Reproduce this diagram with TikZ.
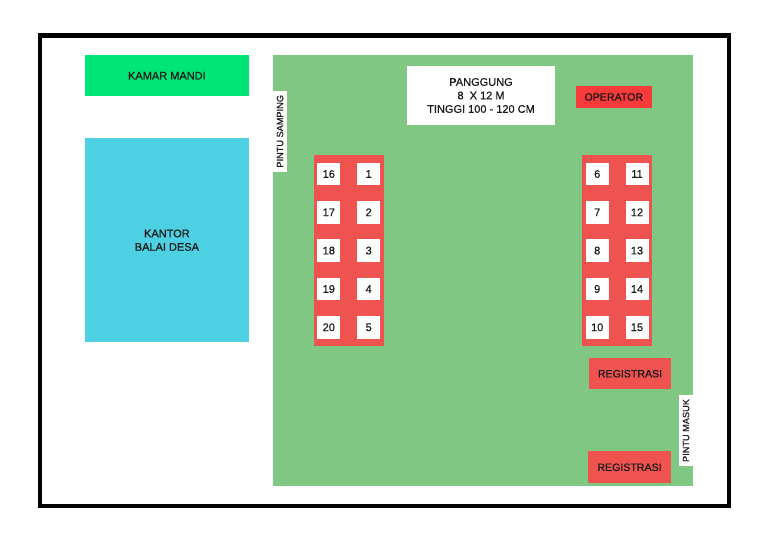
\documentclass[tikz,border=0pt]{standalone}
\usepackage{fontspec}
\setmainfont{Liberation Sans}[FakeBold=0.5]
\usetikzlibrary{positioning, calc}
\definecolor{lapangan}{HTML}{81C784}
\definecolor{kamar}{HTML}{00E676}
\definecolor{kantor}{HTML}{4DD0E1}
\definecolor{merah}{HTML}{EF5350}
\definecolor{operator}{HTML}{F83A3A}
\definecolor{tulisan}{HTML}{1A1A1A}
\tikzset{
    room/.style={inner sep=0pt, text=tulisan, align=center, font=\fontsize{11}{13.5}\selectfont},
    desk/.style={room, fill=merah, font=\fontsize{10.6}{13.5}\selectfont},
    seat/.style={room, fill=white, minimum width=23pt, minimum height=22.4pt},
    pintu/.style={room, fill=white, rotate=90, font=\fontsize{9.2}{11}\selectfont}
}

\begin{document}
\begin{tikzpicture}[x=1pt, y=-1pt]
    \useasboundingbox (0,0) rectangle (768,543);
    \fill[white] (0,0) rectangle (768,543);
    \draw[black, line width=4.2pt] (39.7,35.5) rectangle (728.7,506);

    % ruang luar
    \node[room, fill=kamar, minimum width=163.7pt, minimum height=40.7pt] (mandi) at (166.9,75.7) {KAMAR MANDI};
    \node[room, fill=kantor, minimum width=163.7pt, minimum height=203.7pt] (balai) at (166.9,240.2) {KANTOR\\BALAI DESA};

    % lapangan
    \node[room, fill=lapangan, minimum width=420pt, minimum height=430.7pt] (field) at (483,270.7) {};
    \node[room, fill=white, minimum width=148pt, minimum height=59.6pt] (stage) at (481,95.5) {PANGGUNG\\8\ \ X 12 M\\TINGGI 100 - 120 CM};
    \node[desk, fill=operator, minimum width=75.7pt, minimum height=22pt] (oper) at (613.8,97) {OPERATOR};

    % pintu
    \node[pintu, minimum width=80.7pt, minimum height=14pt] (samping) at (280,131.3) {PINTU SAMPING};
    \node[pintu, minimum width=71pt, minimum height=14pt] (masuk) at (686,430.5) {PINTU MASUK};

    % meja
    \node[desk, minimum width=70pt, minimum height=191.3pt] (kiri) at (349,250.3) {};
    \node[desk, minimum width=69.7pt, minimum height=191.3pt] (kanan) at (616.8,250.3) {};
    \foreach \y/\a/\b/\c/\d in {174/16/1/6/11, 212.3/17/2/7/12, 250.6/18/3/8/13, 289/19/4/9/14, 327.3/20/5/10/15} {
        \node[seat] (s\a) at (328.8,\y) {\a};
        \node[seat] (s\b) at (368.7,\y) {\b};
        \node[seat] (s\c) at (597.2,\y) {\c};
        \node[seat] (s\d) at (637,\y) {\d};
    }

    % registrasi
    \node[desk, minimum width=82pt, minimum height=31.3pt] (reg1) at (630,373.7) {REGISTRASI};
    \node[desk, minimum width=83pt, minimum height=32pt] (reg2) at (629.5,467.3) {REGISTRASI};
\end{tikzpicture}
\end{document}
